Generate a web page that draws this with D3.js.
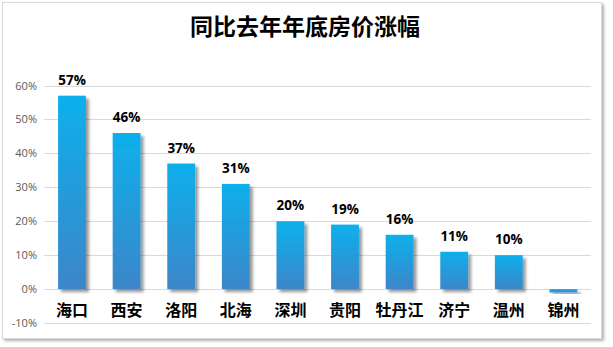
<!DOCTYPE html>
<html><head><meta charset="utf-8">
<script src="https://cdn.jsdelivr.net/npm/d3@7"></script>
<style>body{margin:0;background:#fff}svg{display:block}</style>
</head><body>
<script>
const categories = ["海口","西安","洛阳","北海","深圳","贵阳","牡丹江","济宁","温州","锦州"];
const values = [57,46,37,31,20,19,16,11,10,-1];
const showLabel = [true,true,true,true,true,true,true,true,true,false];
const yTicks = [-10,0,10,20,30,40,50,60];
const title = "同比去年年底房价涨幅";

const W=613,H=347;
const svg=d3.select("body").append("svg").attr("width",W).attr("height",H);
const defs=svg.append("defs");
const f=defs.append("filter").attr("id","frameShadow").attr("x","-5%").attr("y","-5%").attr("width","110%").attr("height","110%");
f.append("feDropShadow").attr("dx",2).attr("dy",2).attr("stdDeviation",1.5).attr("flood-color","#000").attr("flood-opacity",0.3);
const bs=defs.append("filter").attr("id","barShadow").attr("x","-30%").attr("y","-30%").attr("width","170%").attr("height","170%");
bs.append("feDropShadow").attr("dx",3).attr("dy",3).attr("stdDeviation",1.8).attr("flood-color","#000").attr("flood-opacity",0.4);
const g=defs.append("linearGradient").attr("id","barGrad").attr("x1",0).attr("y1",0).attr("x2",0).attr("y2",1);
g.append("stop").attr("offset","0%").attr("stop-color","#0db0ec");
g.append("stop").attr("offset","100%").attr("stop-color","#3c86c9");

svg.append("rect").attr("x",2.5).attr("y",2.5).attr("width",599).attr("height",336)
  .attr("fill","#fff").attr("stroke","#d9d9d9").attr("filter","url(#frameShadow)");

svg.append("text").attr("x",305).attr("y",35).attr("text-anchor","middle")
  .attr("font-family","'Noto Sans CJK SC'").attr("font-weight",600).attr("font-size",23).attr("fill","#000").text(title);

const x=d3.scaleBand().domain(categories).range([44.7,590.7]).paddingInner(0.49).paddingOuter(0.245);
const y=d3.scaleLinear().domain([-10,60]).range([323,85.5]);

const grid=svg.append("g");
grid.selectAll("line").data(yTicks).join("line")
  .attr("x1",44).attr("x2",591).attr("y1",d=>Math.round(y(d))+0.5).attr("y2",d=>Math.round(y(d))+0.5)
  .attr("stroke","#d9d9d9").attr("stroke-width",1);

const yAxis=d3.axisLeft(y).tickValues(yTicks).tickFormat(d=>d+"%").tickSize(0).tickPadding(0);
const ya=svg.append("g").attr("transform","translate(37,0)").call(yAxis);
ya.select(".domain").remove();
ya.selectAll("text").attr("font-family","'Open Sans', sans-serif").attr("font-size",11).attr("fill","#595959");

svg.append("g").selectAll("rect").data(values).join("rect")
  .attr("x",(d,i)=>x(categories[i])).attr("width",x.bandwidth())
  .attr("y",d=>y(Math.max(0,d))).attr("height",d=>Math.abs(y(d)-y(0)))
  .attr("fill","url(#barGrad)").attr("filter","url(#barShadow)");

svg.append("g").selectAll("text").data(values).join("text")
  .filter((d,i)=>showLabel[i])
  .attr("x",(d,i)=>x(categories[i])+x.bandwidth()/2).attr("y",d=>y(d)-11)
  .attr("text-anchor","middle").attr("font-family","'Open Sans', sans-serif").attr("font-weight","bold")
  .attr("font-size",13.5).attr("fill","#000").text(d=>d+"%");

const xAxis=d3.axisBottom(x).tickSize(0).tickPadding(0);
const xa=svg.append("g").attr("transform","translate(0,0)").call(xAxis);
xa.select(".domain").remove();
xa.selectAll("text").attr("y",316).attr("dy",0).attr("font-family","'Noto Sans CJK SC'").attr("font-weight","bold")
  .attr("font-size",16).attr("fill","#000");
</script>
</body></html>
